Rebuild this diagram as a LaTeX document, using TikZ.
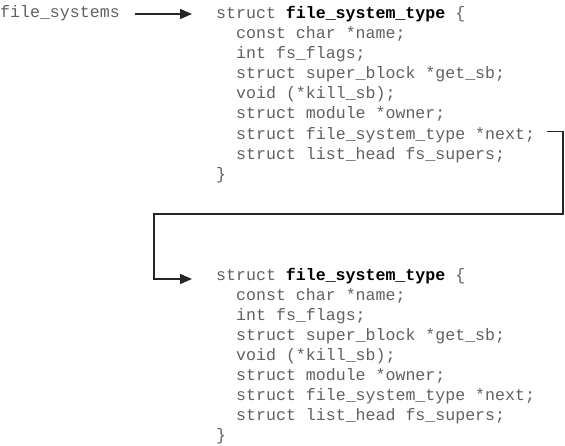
\documentclass[tikz,border=0pt]{standalone}
\usepackage{fontspec}
\setmonofont{Liberation Mono}
\usetikzlibrary{arrows.meta}
\begin{document}
\begin{tikzpicture}[x=1pt,y=-1pt,
  code/.style={anchor=base west,inner sep=0pt,text=black!62,font=\ttfamily\fontsize{16.6}{20}\selectfont},
  link/.style={draw=black!85,line width=1.4pt,-{Triangle[length=12pt,width=10pt]}},
  wire/.style={draw=black!85,line width=1.4pt}]
\useasboundingbox (0,0) rectangle (565,446);
% left label
\node[code] (fs) at (0,18) {file\_systems};
% first struct
\node[code] (a1) at (216,18.5) {struct \textbf{\color{black}file\_system\_type} \{};
\node[code] (a2) at (236,38.6) {const char *name;};
\node[code] (a3) at (236,58.7) {int fs\_flags;};
\node[code] (a4) at (236,78.8) {struct super\_block *get\_sb;};
\node[code] (a5) at (236,98.9) {void (*kill\_sb);};
\node[code] (a6) at (236,119) {struct module *owner;};
\node[code] (a7) at (236,139.1) {struct file\_system\_type *next;};
\node[code] (a8) at (236,159.2) {struct list\_head fs\_supers;};
\node[code] (a9) at (216,179.3) {\}};
% second struct
\node[code] (b1) at (216,280.5) {struct \textbf{\color{black}file\_system\_type} \{};
\node[code] (b2) at (236,300.5) {const char *name;};
\node[code] (b3) at (236,320.5) {int fs\_flags;};
\node[code] (b4) at (236,340.5) {struct super\_block *get\_sb;};
\node[code] (b5) at (236,360.5) {void (*kill\_sb);};
\node[code] (b6) at (236,380.5) {struct module *owner;};
\node[code] (b7) at (236,400.5) {struct file\_system\_type *next;};
\node[code] (b8) at (236,420.5) {struct list\_head fs\_supers;};
\node[code] (b9) at (216,440.5) {\}};
% connectors
\coordinate (s1) at (135,14);
\coordinate (t1) at (192,14);
\draw[link] (s1) -- (t1);
\coordinate (s2) at (547,131.5);
\coordinate (r) at (563,214);
\coordinate (l) at (154,214);
\coordinate (t2) at (192,279);
\draw[link] (s2) -| (r) -- (l) |- (t2);
\end{tikzpicture}
\end{document}
